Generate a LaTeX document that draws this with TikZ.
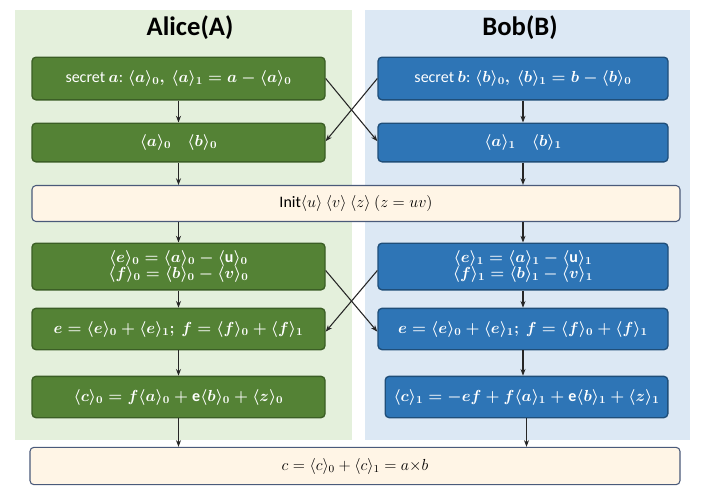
\documentclass[tikz,border=0pt]{standalone}
\usepackage{fontspec}
\setmainfont{Carlito}
\usetikzlibrary{arrows.meta}
\definecolor{gbox}{HTML}{548235}
\definecolor{gedge}{HTML}{3B5E25}
\definecolor{bbox}{HTML}{2E75B6}
\definecolor{bedge}{HTML}{1F4E79}
\definecolor{cream}{HTML}{FFF5E6}
\definecolor{cedge}{HTML}{4A5A7A}
\definecolor{gpanel}{HTML}{E4F0DC}
\definecolor{bpanel}{HTML}{DCE8F4}
\begin{document}
\begin{tikzpicture}[x=0.75pt,y=-0.75pt,
  gb/.style={draw=gedge,line width=1pt,fill=gbox,rounded corners=3pt,text=white,minimum width=219.75pt,align=center,font=\large\boldmath},
  bb/.style={draw=bedge,line width=1pt,fill=bbox,rounded corners=3pt,text=white,minimum width=217.5pt,align=center,font=\large\boldmath},
  cb/.style={draw=cedge,line width=0.8pt,fill=cream,rounded corners=3pt,text=black,align=center,font=\large},
  arr/.style={-{Stealth[length=5pt]},line width=0.8pt,black!85}]
\useasboundingbox (0,0) rectangle (701,501);
\fill[white] (0,0) rectangle (701,501);
\fill[gpanel] (15,10) rectangle (352,440);
\fill[bpanel] (365,10) rectangle (690,440);
\node[font=\fontsize{20}{24}\selectfont\bfseries] (ta) at (190,28) {Alice(A)};
\node[font=\fontsize{20}{24}\selectfont\bfseries] (tb) at (520,28) {Bob(B)};
\node[gb,minimum height=32pt] (g1) at (178.5,78.5) {secret $a$: $\langle a\rangle_0,\ \langle a\rangle_1=a-\langle a\rangle_0$};
\node[bb,minimum height=32pt] (b1) at (523,78.5) {secret $b$: $\langle b\rangle_0,\ \langle b\rangle_1=b-\langle b\rangle_0$};
\node[gb,minimum height=29pt] (g2) at (178.5,142.5) {$\langle a\rangle_0\quad\langle b\rangle_0$};
\node[bb,minimum height=29pt] (b2) at (523,142.5) {$\langle a\rangle_1\quad\langle b\rangle_1$};
\node[cb,minimum width=486pt,minimum height=27pt] (init) at (356,203.5) {Init$\langle u\rangle\ \langle v\rangle\ \langle z\rangle\ (z=uv)$};
\node[gb,minimum height=35pt] (g3) at (178.5,266.5) {$\langle e\rangle_0=\langle a\rangle_0-\langle \mathrm{u}\rangle_0$\\[-2pt]$\langle f\rangle_0=\langle b\rangle_0-\langle v\rangle_0$};
\node[bb,minimum height=35pt] (b3) at (523,266.5) {$\langle e\rangle_1=\langle a\rangle_1-\langle \mathrm{u}\rangle_1$\\[-2pt]$\langle f\rangle_1=\langle b\rangle_1-\langle v\rangle_1$};
\node[gb,minimum height=31pt] (g4) at (178.5,329) {$e=\langle e\rangle_0+\langle e\rangle_1;\ f=\langle f\rangle_0+\langle f\rangle_1$};
\node[bb,minimum height=31pt] (b4) at (523,329) {$e=\langle e\rangle_0+\langle e\rangle_1;\ f=\langle f\rangle_0+\langle f\rangle_1$};
\node[gb,minimum height=31pt] (g5) at (178.5,397) {$\langle c\rangle_0=f\langle a\rangle_0+\mathrm{e}\langle b\rangle_0+\langle z\rangle_0$};
\node[bb,minimum width=212pt,minimum height=31pt,font=\normalsize\boldmath] (b5) at (526.5,397) {\large$\langle c\rangle_1=-ef+f\langle a\rangle_1+\mathrm{e}\langle b\rangle_1+\langle z\rangle_1$};
\node[cb,minimum width=487.5pt,minimum height=28pt] (fin) at (355,466) {$c=\langle c\rangle_0+\langle c\rangle_1=a{\times}b$};
\foreach \a/\b in {g1/g2,g2/init,g3/g4,g4/g5,g5/fin}{\draw[arr] (\a.south) -- (\a.south|-\b.north);}
\draw[arr] (b1.south) -- (b2.north);
\draw[arr] (b2.south) -- (b2.south|-init.north);
\draw[arr] (init.south-|b3.south) -- (b3.north);
\draw[arr] (init.south-|g3.south) -- (g3.north);
\draw[arr] (b3.south) -- (b3.south|-b4.north);
\draw[arr] (b4.south) -- (b4.south|-b5.north);
\draw[arr] (b5.south) -- (b5.south|-fin.north);
\draw[arr] (g1.east) -- ([yshift=1pt]b2.west);
\draw[arr] (b1.west) -- ([yshift=1pt]g2.east);
\draw[arr] ([yshift=-3pt]g3.east) -- ([yshift=-2pt]b4.west);
\draw[arr] ([yshift=-3pt]b3.west) -- ([yshift=-2pt]g4.east);
\end{tikzpicture}
\end{document}
